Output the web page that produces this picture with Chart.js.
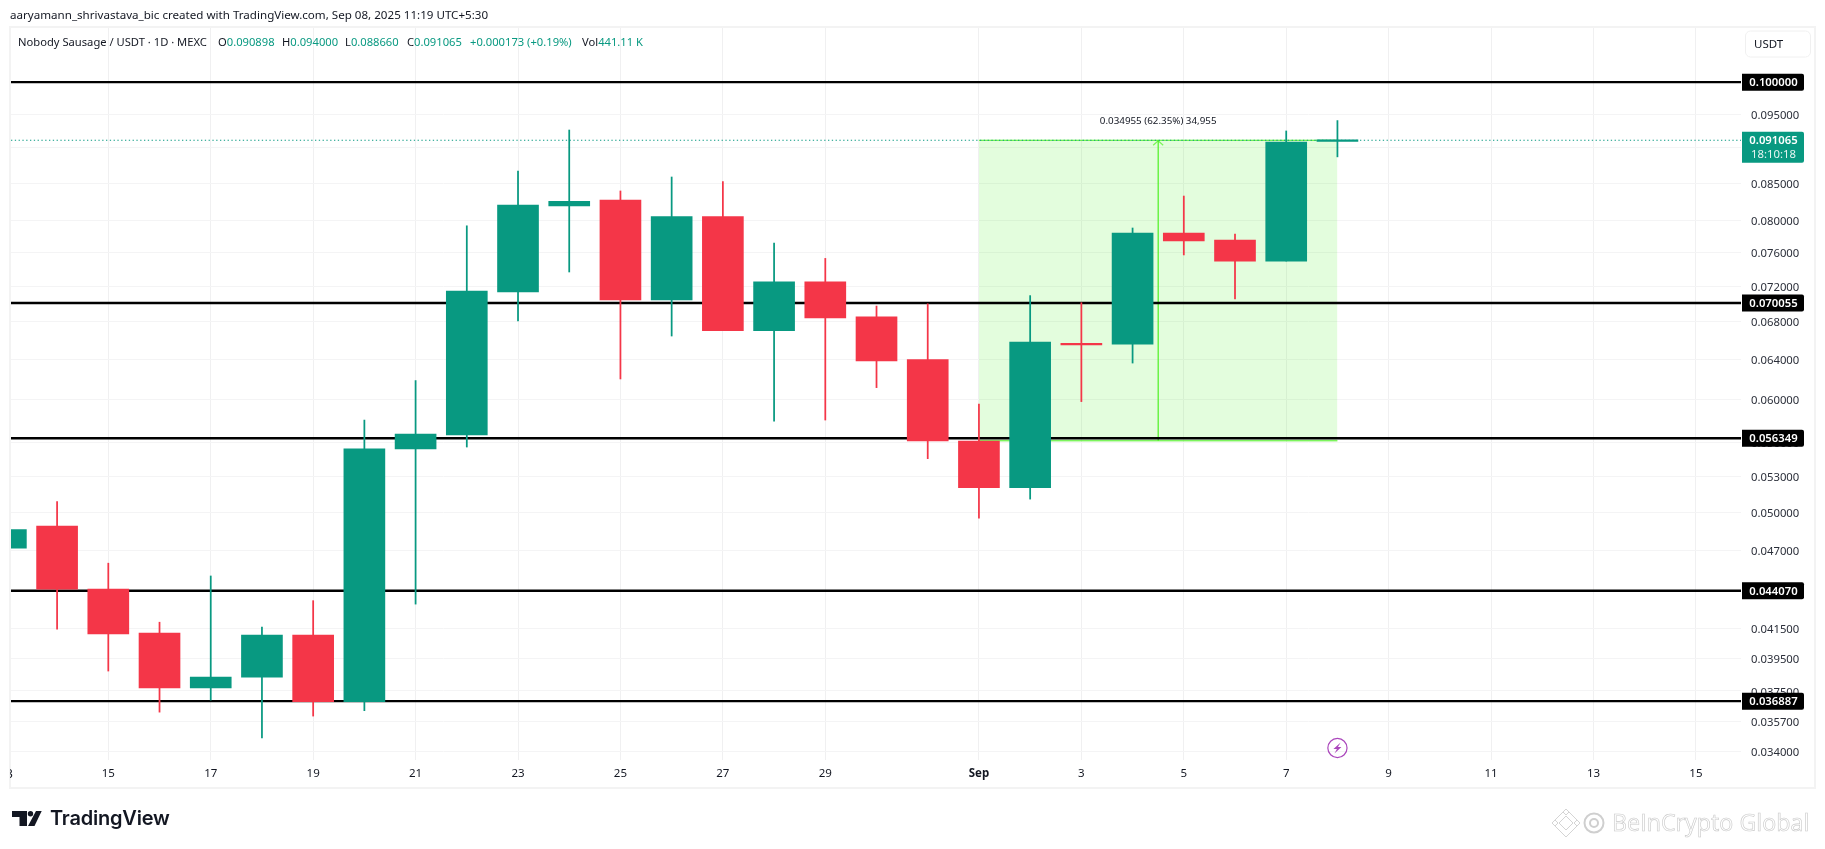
<!DOCTYPE html>
<html>
<head>
<meta charset="utf-8">
<title>Nobody Sausage / USDT</title>
<script src="https://cdn.jsdelivr.net/npm/chart.js@4/dist/chart.umd.js"></script>
<style>
html,body{margin:0;padding:0;background:#fff;width:1825px;height:849px;overflow:hidden}
#wrap{position:relative;width:1825px;height:849px}
canvas{position:absolute;left:0;top:0}
.t{position:absolute;white-space:pre;font-family:"Noto Sans",sans-serif;color:#131722;line-height:1}
.g{color:#089981}
</style>
</head>
<body>
<div id="wrap">
<canvas id="c" width="1825" height="849"></canvas>
<div class="t" style="left:10px;top:9px;font-size:11.6px;color:#131722">aaryamann_shrivastava_bic created with TradingView.com, Sep 08, 2025 11:19 UTC+5:30</div>
<div class="t" style="left:18px;top:36px;font-size:11.2px">Nobody Sausage / USDT · 1D · MEXC</div>
<div class="t" style="left:218px;top:36px;font-size:11.2px">O<span class="g">0.090898</span></div>
<div class="t" style="left:282px;top:36px;font-size:11.2px">H<span class="g">0.094000</span></div>
<div class="t" style="left:345px;top:36px;font-size:11.2px">L<span class="g">0.088660</span></div>
<div class="t" style="left:407px;top:36px;font-size:11.2px">C<span class="g">0.091065</span></div>
<div class="t g" style="left:470px;top:36px;font-size:11.2px">+0.000173 (+0.19%)</div>
<div class="t" style="left:582px;top:36px;font-size:11.2px">Vol<span class="g">441.11 K</span></div>
<div class="t" style="left:50px;top:808px;font-family:Inter,sans-serif;font-weight:600;font-size:20px;color:#131722;letter-spacing:-0.2px">TradingView</div>
<div class="t" style="left:1612px;top:811px;font-family:'Open Sans',sans-serif;font-size:23.3px;color:#fff;-webkit-text-stroke:0.6px #c9c9c9">BeInCrypto Global</div>
</div>
<script>
// Day numbers count from Aug 1 = 1, so Sep 1 = 32
const days   = [13,14,15,16,17,18,19,20,21,22,23,24,25,26,27,28,29,30,31,32,33,34,35,36,37,38,39];
const opens  = [0.04720,0.04891,0.04418,0.04116,0.03768,0.03834,0.04103,0.03685,0.05538,0.05664,0.07132,0.08191,0.08271,0.07040,0.08053,0.06701,0.07250,0.06853,0.06395,0.05609,0.05202,0.06564,0.06556,0.07842,0.07755,0.07496,0.090898];
const highs  = [0.04920,0.05087,0.04607,0.04189,0.04513,0.04156,0.04337,0.05802,0.06183,0.07934,0.08667,0.09258,0.08392,0.08583,0.08520,0.07717,0.07528,0.06972,0.06997,0.05954,0.07090,0.07010,0.07906,0.08324,0.07830,0.09244,0.094000];
const lows   = [0.04650,0.04143,0.03872,0.03624,0.03695,0.03477,0.03601,0.03632,0.04313,0.05555,0.06806,0.07365,0.06199,0.06643,0.06701,0.05792,0.05802,0.06113,0.05452,0.04954,0.05108,0.05977,0.06360,0.07570,0.07051,0.07496,0.088660];
const closes = [0.04863,0.04418,0.04110,0.03768,0.03834,0.04103,0.03685,0.05538,0.05673,0.07143,0.08205,0.08252,0.07040,0.08053,0.06701,0.07250,0.06841,0.06383,0.05609,0.05202,0.06579,0.06548,0.07842,0.07743,0.07496,0.09081,0.091065];

const xTickDays   = [15,17,19,21,23,25,27,29,32,34,36,38,40,42,44,46];
const xTickLabels = ['15','17','19','21','23','25','27','29','Sep','3','5','7','9','11','13','15'];
const clippedTickDay = 13, clippedTickLabel = '13';
const yTicks = [0.1,0.095,0.09,0.085,0.08,0.076,0.072,0.07,0.068,0.064,0.06,0.056,0.053,0.05,0.047,0.044,0.0415,0.0395,0.0375,0.0357,0.034];
const levels = [0.1,0.070055,0.056349,0.04407,0.036887];
const lastPrice = 0.091065;
const countdown = '18:10:18';
const rangeLow = 0.05611;
const rangeStartDay = 32, rangeEndDay = 39, rangeArrowDay = 35.5;
const rangeLabel = '0.034955 (62.35%) 34,955';
const xMin = 13.10, xMax = 46.88, yMin = 0.03355, yMax = 0.10912;

const UP = '#089981', DOWN = '#f43648', RANGE = '#4cf020';
const TEXT = '#131722';
const candleColors = opens.map((o,i)=> closes[i] >= o ? UP : DOWN);
const FONT = '"Noto Sans", sans-serif';

const hLine = (v,color,width,order,dash)=>({
  type:'line',
  data:[{x:xMin,y:v},{x:xMax,y:v}],
  borderColor:color,borderWidth:width,pointRadius:0,order,borderDash:dash||[],tension:0
});

const datasets = [
  {type:'line',data:[{x:rangeStartDay,y:lastPrice},{x:rangeEndDay,y:lastPrice}],
   fill:{value:rangeLow},backgroundColor:'rgba(76,240,40,0.155)',borderColor:RANGE,borderWidth:1,pointRadius:0,order:9},
  {type:'line',data:[{x:rangeStartDay,y:rangeLow},{x:rangeEndDay,y:rangeLow}],
   borderColor:RANGE,borderWidth:1,pointRadius:0,order:8},
  {type:'line',data:[{x:rangeArrowDay,y:rangeLow},{x:rangeArrowDay,y:lastPrice}],
   borderColor:RANGE,borderWidth:1.2,pointRadius:0,order:7},
  hLine(lastPrice,UP,1,6,[1.3,2.5]),
  ...levels.map(v=>hLine(v,'#000',2.4,5)),
  {type:'bar',data:days.map((d,i)=>({x:d,y:[lows[i],highs[i]]})),
   backgroundColor:candleColors,barThickness:1.1,grouped:false,order:2},
  {type:'bar',data:days.map((d,i)=>({x:d,y:[opens[i],closes[i]]})),
   backgroundColor:candleColors,barThickness:41,grouped:false,minBarLength:1.5,order:1}
];

function tag(ctx,x,y,w,h,fill){
  ctx.fillStyle=fill;
  ctx.beginPath();
  ctx.roundRect(x,y,w,h,[0,2,2,0]);
  ctx.fill();
}

const overlay = {
  id:'overlay',
  beforeDraw(chart){
    const ctx=chart.ctx;
    ctx.save();
    ctx.strokeStyle='#f3f3f3';ctx.lineWidth=2;
    ctx.strokeRect(10,27,1805,761);
    ctx.restore();
  },
  afterDraw(chart){
    const ctx=chart.ctx, y=chart.scales.y, x=chart.scales.x;
    const tagX=chart.chartArea.right+1, tagW=62, mid=tagX+tagW/2+0.5;
    ctx.save();
    ctx.textAlign='center';ctx.textBaseline='middle';
    // level tags
    levels.forEach(v=>{
      const p=y.getPixelForValue(v);
      tag(ctx,tagX,p-8.5,tagW,17,'#000');
      ctx.fillStyle='#fff';
      ctx.font='600 11.3px '+FONT;
      ctx.fillText(v.toFixed(6),mid,p+1);
    });
    // last price tag
    const lp=y.getPixelForValue(lastPrice);
    tag(ctx,tagX,lp-8.5,tagW,31,UP);
    ctx.fillStyle='#fff';
    ctx.font='600 11.3px '+FONT;
    ctx.fillText(lastPrice.toFixed(6),mid,lp+1);
    ctx.font='11.3px '+FONT;
    ctx.fillStyle='#e6f5f2';
    ctx.fillText(countdown,mid,lp+15);
    // USDT button
    ctx.strokeStyle='#f0f0f0';ctx.lineWidth=1;
    ctx.beginPath();ctx.roundRect(1745.5,31,65,26,5);ctx.stroke();
    ctx.fillStyle=TEXT;ctx.textAlign='left';
    ctx.font='11.5px '+FONT;
    ctx.fillText('USDT',1754,45);
    // clipped leftmost date label
    ctx.save();
    ctx.beginPath();ctx.rect(10,765,3,18);ctx.clip();
    ctx.textAlign='center';ctx.font='12px '+FONT;
    ctx.fillText(clippedTickLabel,x.getPixelForValue(clippedTickDay),774.5);
    ctx.restore();
    // range label and arrow head
    const ax=x.getPixelForValue(rangeArrowDay), ay=lp;
    ctx.textAlign='center';
    ctx.fillStyle=TEXT;
    ctx.font='9.8px '+FONT;
    ctx.fillText(rangeLabel,ax,lp-19);
    ctx.strokeStyle='rgba(76,240,32,0.7)';ctx.lineWidth=1.2;
    ctx.beginPath();ctx.moveTo(ax-5,ay+5);ctx.lineTo(ax,ay+0.5);ctx.lineTo(ax+5,ay+5);ctx.stroke();
    // bolt marker
    const bx=x.getPixelForValue(rangeEndDay), by=748;
    ctx.strokeStyle='#ab47bc';ctx.lineWidth=1.2;
    ctx.beginPath();ctx.arc(bx,by,9.6,0,Math.PI*2);ctx.stroke();
    ctx.fillStyle='#ab47bc';
    ctx.beginPath();
    ctx.moveTo(bx+3.2,by-5.5);ctx.lineTo(bx-4,by+1);ctx.lineTo(bx-0.5,by+1);
    ctx.lineTo(bx-3,by+5.5);ctx.lineTo(bx+4,by-1);ctx.lineTo(bx+0.5,by-1);ctx.closePath();ctx.fill();
    // TradingView mark
    ctx.fillStyle='#131722';
    ctx.beginPath();
    ctx.moveTo(12,811);ctx.lineTo(27,811);ctx.lineTo(27,826);ctx.lineTo(19.5,826);ctx.lineTo(19.5,817);ctx.lineTo(12,817);ctx.closePath();ctx.fill();
    ctx.beginPath();ctx.arc(30.5,813.7,2.7,0,Math.PI*2);ctx.fill();
    ctx.beginPath();
    ctx.moveTo(36,811);ctx.lineTo(41.7,811);ctx.lineTo(34.5,826);ctx.lineTo(28,826);ctx.closePath();ctx.fill();
    // watermark icon
    ctx.strokeStyle='#d4d4d4';ctx.lineWidth=1;
    [[1566,823,14],[1566,823,7],[1555,823,3],[1577,823,3],[1566,812,3]].forEach(([cx,cy,r])=>{
      ctx.beginPath();ctx.moveTo(cx,cy-r);ctx.lineTo(cx+r,cy);ctx.lineTo(cx,cy+r);ctx.lineTo(cx-r,cy);ctx.closePath();ctx.stroke();
    });
    ctx.strokeStyle='#cfcfcf';ctx.lineWidth=2;
    ctx.beginPath();ctx.arc(1594,823,9.5,0,Math.PI*2);ctx.stroke();
    ctx.beginPath();ctx.arc(1594,823,4,0,Math.PI*2);ctx.stroke();
    ctx.restore();
  }
};

new Chart(document.getElementById('c'),{
  type:'bar',
  data:{datasets},
  options:{
    responsive:false,animation:false,devicePixelRatio:1,
    layout:{padding:{left:11,top:28,right:10,bottom:61}},
    plugins:{legend:{display:false},tooltip:{enabled:false}},
    scales:{
      x:{
        type:'linear',min:xMin,max:xMax,offset:false,
        border:{display:false},
        grid:{color:'#f0f0f1',lineWidth:1,offset:false,drawTicks:false,tickLength:0},
        afterBuildTicks(s){s.ticks=xTickDays.map(v=>({value:v}));},
        afterFit(s){s.height=28;},
        ticks:{
          autoSkip:false,maxRotation:0,padding:7,color:TEXT,
          font:c=>({family:FONT,size:11.5,weight:c.tick&&c.tick.value===32?'700':'400'}),
          callback:(v)=>xTickLabels[xTickDays.indexOf(v)]
        }
      },
      y:{
        type:'logarithmic',position:'right',min:yMin,max:yMax,
        border:{display:false},
        grid:{color:'#f4f4f5',lineWidth:1,drawTicks:false,tickLength:0},
        afterBuildTicks(s){s.ticks=yTicks.map(v=>({value:v}));},
        afterFit(s){s.width=74;},
        ticks:{
          autoSkip:false,padding:10,color:'#2a2e39',labelOffset:1.5,
          font:{family:FONT,size:11.3},
          callback:v=>Number(v).toFixed(6)
        }
      }
    }
  },
  plugins:[overlay]
});
</script>
</body>
</html>
